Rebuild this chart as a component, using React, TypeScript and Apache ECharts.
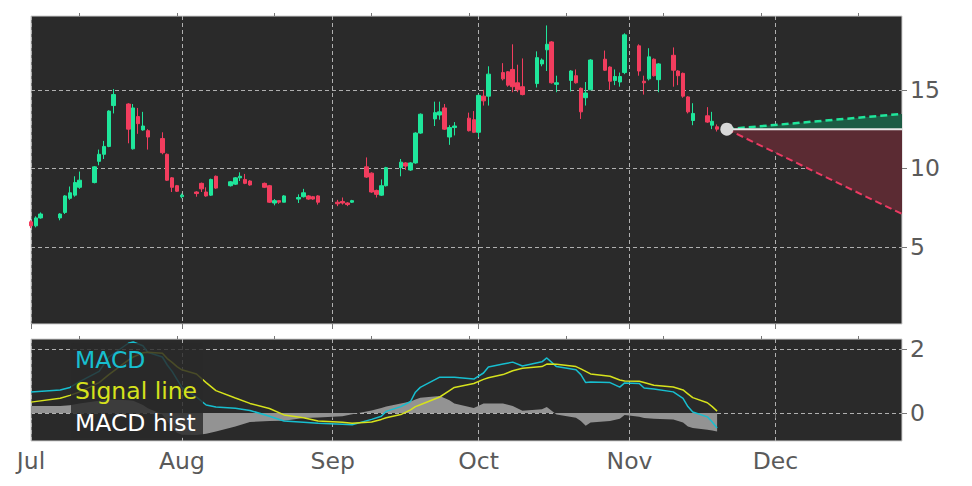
import React, { useEffect, useRef } from 'react';
import * as echarts from 'echarts';

// ---- Price candles (2025) ----
const candleDates = [
  '2025-07-01','2025-07-02','2025-07-03','2025-07-07','2025-07-08','2025-07-09','2025-07-10','2025-07-11',
  '2025-07-14','2025-07-15','2025-07-16','2025-07-17','2025-07-18','2025-07-21','2025-07-22','2025-07-23',
  '2025-07-24','2025-07-25','2025-07-28','2025-07-29','2025-07-30','2025-07-31','2025-08-01','2025-08-04',
  '2025-08-05','2025-08-06','2025-08-07','2025-08-08','2025-08-11','2025-08-12','2025-08-13','2025-08-14',
  '2025-08-15','2025-08-18','2025-08-19','2025-08-20','2025-08-21','2025-08-22','2025-08-25','2025-08-26',
  '2025-08-27','2025-08-28','2025-08-29','2025-09-02','2025-09-03','2025-09-04','2025-09-05','2025-09-08',
  '2025-09-09','2025-09-10','2025-09-11','2025-09-12','2025-09-15','2025-09-16','2025-09-17','2025-09-18',
  '2025-09-19','2025-09-22','2025-09-23','2025-09-24','2025-09-25','2025-09-26','2025-09-29','2025-09-30',
  '2025-10-01','2025-10-02','2025-10-03','2025-10-06','2025-10-07','2025-10-08','2025-10-09','2025-10-10',
  '2025-10-13','2025-10-14','2025-10-15','2025-10-16','2025-10-17','2025-10-20','2025-10-21','2025-10-22',
  '2025-10-23','2025-10-24','2025-10-27','2025-10-28','2025-10-29','2025-10-30','2025-10-31','2025-11-03',
  '2025-11-04','2025-11-05','2025-11-06','2025-11-07','2025-11-10','2025-11-11','2025-11-12','2025-11-13',
  '2025-11-14','2025-11-17','2025-11-18','2025-11-19',
];
const opens = [
  6.6,6.35,6.85,6.85,7.2,8.1,8.3,8.8,
  9.1,10.45,10.9,11.4,14.0,14.1,11.25,13.3,
  12.45,12.4,11.9,10.9,9.4,8.9,8.2,8.5,
  9.05,8.5,8.3,9.5,8.9,9.0,9.4,9.3,
  9.2,9.05,8.9,7.8,7.95,7.85,8.05,8.2,
  8.25,8.2,8.25,7.85,7.9,7.8,7.85,10.1,
  9.7,8.6,8.3,8.9,10.05,10.35,9.9,10.35,
  12.25,13.15,13.4,13.85,12.0,12.6,13.2,13.1,
  12.3,14.6,14.6,16.1,16.15,16.3,15.45,15.2,
  15.4,16.65,17.55,18.05,15.35,15.6,15.9,15.1,
  14.5,15.0,16.95,16.45,15.6,15.5,16.1,17.8,
  15.55,15.7,16.95,15.65,17.2,16.2,16.05,14.55,
  13.05,13.35,12.75,12.65,
];
const closes = [
  6.35,6.85,7.1,7.1,8.25,8.45,9.1,9.25,
  10.1,10.9,11.4,13.65,14.7,12.5,13.85,12.85,
  12.7,12.0,11.0,9.25,8.8,8.55,8.3,8.4,
  8.7,8.25,9.3,8.75,9.15,9.4,9.5,9.05,
  8.95,8.8,7.85,7.95,7.85,8.25,8.15,8.45,
  8.05,8.05,7.85,7.75,7.8,7.7,7.95,9.45,
  8.5,8.35,8.9,10.05,10.4,10.15,10.35,12.25,
  13.45,13.55,13.6,12.5,12.6,12.7,12.4,12.3,
  14.65,14.3,16.0,15.7,15.3,15.2,15.0,14.7,
  17.05,16.9,17.9,15.45,15.45,16.2,15.45,13.6,
  14.8,16.9,16.25,15.55,15.85,15.85,18.5,16.2,
  15.45,17.1,15.9,16.65,16.25,15.9,14.6,13.6,
  13.5,12.95,13.0,12.5,
];
const lows = [
  6.2,6.25,6.8,6.7,7.1,8.0,8.2,8.7,
  9.05,10.2,10.6,11.35,13.5,11.6,11.2,12.2,
  12.4,11.2,10.9,9.2,8.5,8.5,8.1,8.2,
  8.5,8.2,8.25,8.7,8.85,8.95,9.2,9.0,
  8.9,8.75,7.8,7.65,7.75,7.85,7.8,8.15,
  8.0,8.0,7.7,7.6,7.7,7.6,7.8,9.4,
  8.45,8.15,8.25,8.85,9.5,9.9,9.85,10.3,
  12.2,12.7,13.1,12.45,11.5,12.1,12.35,12.25,
  12.0,14.0,14.0,15.6,15.2,14.85,14.85,14.65,
  15.15,16.5,16.2,15.4,14.85,14.9,15.4,13.15,
  14.0,15.0,16.2,15.0,15.3,15.2,16.0,15.9,
  14.7,15.6,15.85,14.85,15.2,15.3,14.5,13.5,
  12.75,12.9,12.5,12.35,
];
const highs = [
  6.7,6.95,7.2,7.15,8.3,8.85,9.5,9.8,
  10.15,11.2,11.75,13.7,15.05,14.15,14.1,13.85,
  13.6,12.5,12.3,10.95,9.45,8.95,8.4,8.55,
  9.1,8.8,9.35,9.55,9.2,9.45,9.75,9.65,
  9.25,9.1,8.95,8.05,7.95,8.3,8.35,8.7,
  8.3,8.25,8.3,8.0,8.15,7.85,8.0,10.7,
  9.75,8.65,9.3,10.1,10.6,10.4,10.4,12.3,
  13.5,14.25,14.25,14.1,12.75,12.95,13.55,13.65,
  14.7,15.0,16.5,16.7,16.2,17.9,16.6,17.0,
  17.45,17.0,19.1,18.1,15.9,16.25,16.3,15.15,
  15.5,16.95,17.5,16.5,16.3,16.1,18.6,17.9,
  15.9,17.65,17.0,16.7,17.7,16.25,16.1,14.6,
  14.15,13.9,13.6,12.8,
];

// ---- Projection cone ----
const projDates = ['2025-11-21', '2025-12-27'];
const projBase = [12.5, 12.5];
const projUpper = [12.5, 13.47];
const projLower = [12.5, 7.1];

// ---- MACD panel ----
const macdDates = [
  '2025-07-01','2025-07-07','2025-07-09','2025-07-11','2025-07-15','2025-07-17','2025-07-21','2025-07-22',
  '2025-07-24','2025-07-25','2025-07-28','2025-07-29','2025-07-30','2025-07-31','2025-08-01','2025-08-04',
  '2025-08-06','2025-08-08','2025-08-12','2025-08-15','2025-08-19','2025-08-22','2025-08-26','2025-08-29',
  '2025-09-03','2025-09-05','2025-09-09','2025-09-11','2025-09-12','2025-09-15','2025-09-17','2025-09-18',
  '2025-09-19','2025-09-23','2025-09-25','2025-09-26','2025-09-30','2025-10-02','2025-10-03','2025-10-06',
  '2025-10-08','2025-10-10','2025-10-14','2025-10-15','2025-10-17','2025-10-21','2025-10-22','2025-10-23',
  '2025-10-24','2025-10-28','2025-10-30','2025-10-31','2025-11-03','2025-11-04','2025-11-06','2025-11-10',
  '2025-11-12','2025-11-13','2025-11-14','2025-11-17','2025-11-18','2025-11-19',
];
const macdLine = [
  0.66,0.72,0.8,0.98,1.3,1.75,2.18,2.22,
  2.1,1.9,1.75,1.5,1.3,1.05,0.8,0.5,
  0.25,0.19,0.15,0.08,-0.1,-0.25,-0.29,-0.32,
  -0.35,-0.37,-0.2,-0.1,0.05,0.2,0.36,0.65,
  0.8,1.12,1.12,1.12,1.06,1.25,1.44,1.53,
  1.59,1.47,1.6,1.72,1.45,1.35,1.2,0.95,
  0.97,0.95,0.81,0.94,0.92,0.78,0.75,0.66,
  0.46,0.2,0.03,-0.12,-0.28,-0.47,
];
const signalLine = [
  0.34,0.46,0.55,0.66,0.95,1.2,1.65,1.75,
  1.88,1.9,1.87,1.7,1.58,1.45,1.35,1.22,
  0.95,0.7,0.47,0.3,0.14,-0.06,-0.15,-0.25,
  -0.29,-0.32,-0.28,-0.2,-0.15,-0.05,0.1,0.2,
  0.26,0.5,0.7,0.8,0.92,1.05,1.1,1.2,
  1.32,1.4,1.45,1.53,1.52,1.45,1.38,1.3,
  1.22,1.15,1.03,1.0,0.99,0.95,0.87,0.81,
  0.72,0.6,0.48,0.32,0.2,0.06,
];
const macdHist = [
  0.22,0.22,0.24,0.3,0.38,0.42,0.4,0.38,
  0.25,0.15,-0.05,-0.25,-0.45,-0.62,-0.68,-0.69,
  -0.65,-0.58,-0.42,-0.28,-0.25,-0.24,-0.16,-0.14,
  -0.1,-0.04,0.08,0.16,0.2,0.3,0.36,0.42,
  0.48,0.53,0.4,0.3,0.16,0.3,0.3,0.3,
  0.22,0.07,0.12,0.19,-0.05,-0.15,-0.25,-0.4,
  -0.3,-0.25,-0.18,-0.06,-0.12,-0.16,-0.18,-0.2,
  -0.3,-0.42,-0.47,-0.52,-0.55,-0.58,
];

// ---- Axes ----
const monthTicks = ['2025-07-01','2025-08-01','2025-09-01','2025-10-01','2025-11-01','2025-12-01'];
const minorTicks = ['2025-07-11','2025-07-31','2025-08-20','2025-09-09','2025-09-29','2025-10-19','2025-11-08','2025-11-28','2025-12-18'];
const monthNames = ['Jan','Feb','Mar','Apr','May','Jun','Jul','Aug','Sep','Oct','Nov','Dec'];
const xStart = '2025-07-01';
const xEnd = '2025-12-27';
const priceTicks = [5, 10, 15];
const macdTicks = [0, 2];
const legendLabels = ['MACD', 'Signal line', 'MACD hist'];

const T = (d: string) => new Date(d + 'T00:00:00').getTime();

const UP = '#1fe69b';
const DOWN = '#f23d5e';
const PANEL = '#2a2a2a';
const GRIDLINE = '#b0b0b0';
const TXT = '#5a5a5a';
const FONT = 'DejaVu Sans';
const CYAN = '#17becf';
const YELLOW = '#d6e21c';

export default function App() {
  const ref = useRef<HTMLDivElement>(null);
  useEffect(() => {
    if (!ref.current) return;
    const chart = echarts.init(ref.current, null, { renderer: 'svg' });

    const candleData = candleDates.map((d, i) => [T(d), opens[i], closes[i], lows[i], highs[i]]);
    const tp = projDates.map(T);

    const fill = (upper: number[], lower: number[], color: string) => ({
      type: 'custom',
      xAxisIndex: 0,
      yAxisIndex: 0,
      silent: true,
      clip: true,
      z: 1,
      encode: { x: [0, 1], y: [2, 3, 4, 5] },
      data: [[tp[0], tp[1], upper[0], upper[1], lower[0], lower[1]]],
      renderItem: (params: any, api: any) => {
        const p1 = api.coord([api.value(0), api.value(2)]);
        const p2 = api.coord([api.value(1), api.value(3)]);
        const p3 = api.coord([api.value(1), api.value(5)]);
        const p4 = api.coord([api.value(0), api.value(4)]);
        return { type: 'polygon', shape: { points: [p1, p2, p3, p4] }, style: { fill: color } };
      },
    });

    const xMajor = (gridIndex: number, showLabel: boolean) => ({
      type: 'value',
      gridIndex,
      min: T(xStart),
      max: T(xEnd),
      axisLine: { show: false },
      axisTick: { show: true, customValues: monthTicks.map(T), length: 5, lineStyle: { color: '#777', width: 1 } },
      axisLabel: {
        show: showLabel,
        customValues: monthTicks.map(T),
        formatter: (v: number) => monthNames[new Date(v).getMonth()],
        color: TXT,
        fontSize: 23.5,
        fontFamily: FONT,
        margin: 8,
      },
      splitLine: { show: true, lineStyle: { color: GRIDLINE, type: [4, 3], width: 1 } },
    });
    const xMinor = (gridIndex: number) => ({
      type: 'value',
      gridIndex,
      min: T(xStart),
      max: T(xEnd),
      axisLine: { show: false },
      axisTick: { show: true, customValues: minorTicks.map(T), length: 3, lineStyle: { color: '#777', width: 1 } },
      axisLabel: { show: false, customValues: minorTicks.map(T) },
      splitLine: { show: false },
    });

    const legendColors = [CYAN, YELLOW, '#ffffff'];
    const legendY = [360, 391, 423];

    const option: any = {
      animation: false,
      backgroundColor: '#ffffff',
      textStyle: { fontFamily: FONT },
      grid: [
        { left: 31, right: 70, top: 16, height: 308, show: true, backgroundColor: PANEL, borderColor: '#cfcfcf', borderWidth: 1 },
        { left: 31, right: 70, top: 339, height: 102, show: true, backgroundColor: PANEL, borderColor: '#cfcfcf', borderWidth: 1 },
      ],
      xAxis: [xMajor(0, false), xMajor(1, true), xMinor(0), xMinor(1)],
      yAxis: [
        {
          type: 'value',
          gridIndex: 0,
          position: 'right',
          min: 0.1,
          max: 19.7,
          axisLine: { show: false },
          axisTick: { show: true, customValues: priceTicks, length: 5, lineStyle: { color: '#777' } },
          axisLabel: { customValues: priceTicks, color: TXT, fontSize: 23.5, fontFamily: FONT, margin: 8 },
          splitLine: { show: true, lineStyle: { color: GRIDLINE, type: [4, 3], width: 1 } },
        },
        {
          type: 'value',
          gridIndex: 1,
          position: 'right',
          min: -0.875,
          max: 2.3125,
          axisLine: { show: false },
          axisTick: { show: true, customValues: macdTicks, length: 5, lineStyle: { color: '#777' } },
          axisLabel: { customValues: macdTicks, color: TXT, fontSize: 23.5, fontFamily: FONT, margin: 8 },
          splitLine: { show: true, lineStyle: { color: GRIDLINE, type: [4, 3], width: 1 } },
        },
      ],
      series: [
        fill(projUpper, projBase, '#1d5b44'),
        fill(projBase, projLower, '#5b2b33'),
        {
          type: 'candlestick',
          xAxisIndex: 0,
          yAxisIndex: 0,
          barWidth: 4,
          encode: { x: 0, y: [1, 2, 3, 4] },
          data: candleData,
          itemStyle: { color: UP, color0: DOWN, borderColor: UP, borderColor0: DOWN, borderWidth: 1 },
          z: 3,
        },
        {
          type: 'line',
          xAxisIndex: 0,
          yAxisIndex: 0,
          showSymbol: false,
          data: projDates.map((d, i) => [T(d), projUpper[i]]),
          lineStyle: { color: UP, width: 2.5, type: [7, 4] },
          z: 4,
        },
        {
          type: 'line',
          xAxisIndex: 0,
          yAxisIndex: 0,
          showSymbol: false,
          data: projDates.map((d, i) => [T(d), projLower[i]]),
          lineStyle: { color: '#ea3a62', width: 2, type: [7, 4] },
          z: 4,
        },
        {
          type: 'line',
          xAxisIndex: 0,
          yAxisIndex: 0,
          showSymbol: false,
          data: projDates.map((d, i) => [T(d), projBase[i]]),
          lineStyle: { color: '#e8e8e8', width: 2 },
          z: 5,
        },
        {
          type: 'scatter',
          xAxisIndex: 0,
          yAxisIndex: 0,
          symbolSize: 13,
          data: [[tp[0], projBase[0]]],
          itemStyle: { color: '#d8d8d8', opacity: 1 },
          z: 6,
        },
        {
          type: 'line',
          xAxisIndex: 1,
          yAxisIndex: 1,
          showSymbol: false,
          data: macdDates.map((d, i) => [T(d), macdHist[i]]),
          lineStyle: { width: 0 },
          itemStyle: { color: '#939393' },
          areaStyle: { color: '#939393', opacity: 1 },
          z: 2,
        },
        {
          type: 'line',
          xAxisIndex: 1,
          yAxisIndex: 1,
          showSymbol: false,
          data: macdDates.map((d, i) => [T(d), macdLine[i]]),
          lineStyle: { color: CYAN, width: 1.5 },
          z: 3,
        },
        {
          type: 'line',
          xAxisIndex: 1,
          yAxisIndex: 1,
          showSymbol: false,
          data: macdDates.map((d, i) => [T(d), signalLine[i]]),
          lineStyle: { color: YELLOW, width: 1.5 },
          z: 3,
        },
      ],
      graphic: {
        elements: [
          {
            type: 'rect',
            z: 100,
            zlevel: 0,
            shape: { x: 71, y: 343, width: 132, height: 95, r: 3 },
            style: { fill: 'rgba(42,42,42,0.82)' },
            silent: true,
          },
          ...legendLabels.map((t, i) => ({
            type: 'text',
            z: 101,
            x: 75,
            y: legendY[i],
            silent: true,
            style: { text: t, fill: legendColors[i], font: '23.5px "DejaVu Sans"', verticalAlign: 'middle' },
          })),
        ],
      },
    };

    chart.setOption(option);
    return () => chart.dispose();
  }, []);

  return <div ref={ref} style={{ position: 'fixed', left: 0, top: 0, width: 972, height: 486 }} />;
}
